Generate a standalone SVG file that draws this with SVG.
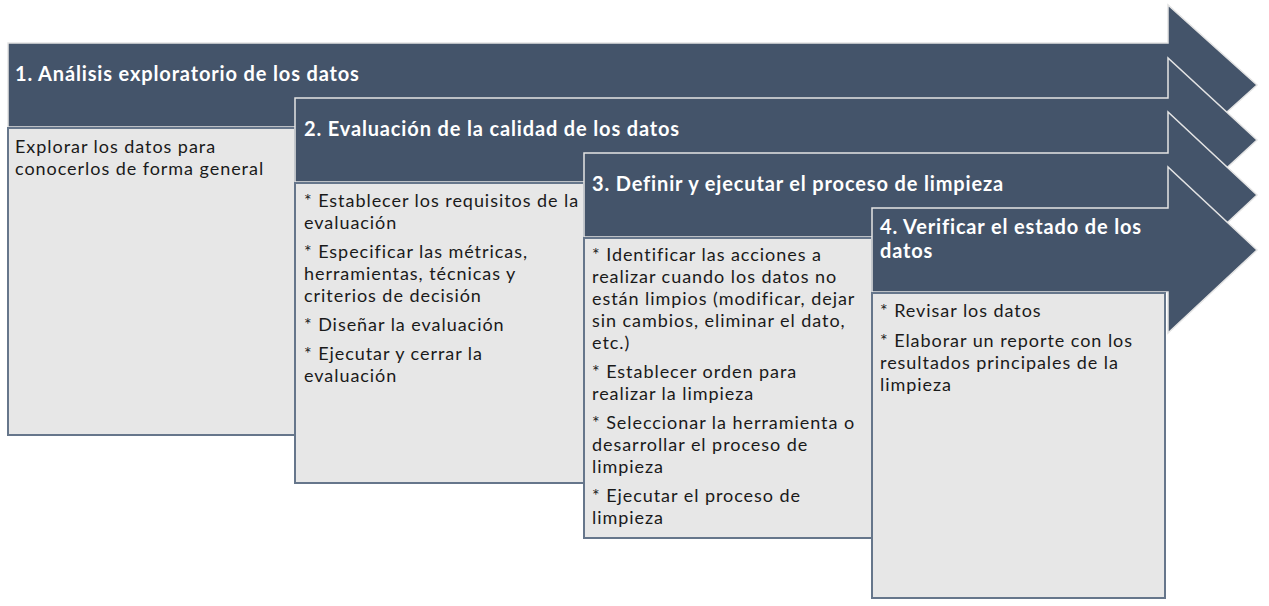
<svg xmlns="http://www.w3.org/2000/svg" width="1269" height="606" viewBox="0 0 1269 606">
  <style>
    .arrow { fill: #44546a; stroke: #e4e4e4; stroke-width: 1.5; stroke-linejoin: miter; }
    .box { fill: #e7e7e7; stroke: #66768b; stroke-width: 2; }
    .title { font-family: Lato, "Liberation Sans", sans-serif; font-weight: bold; font-size: 20px; letter-spacing: 0.85px; fill: #ffffff; }
    .body { font-family: Lato, "Liberation Sans", sans-serif; font-size: 18px; letter-spacing: 0.95px; fill: #1a1a1a; }
  </style>
  <rect x="0" y="0" width="1269" height="606" fill="#ffffff"/>

  <g id="step1">
    <path class="arrow" d="M8,43 H1168 V5 L1257,85 L1168,165 V127 H8 Z"/>
    <rect class="box" x="8" y="128" width="287" height="307"/>
    <text class="title" x="15" y="81">1. Análisis exploratorio de los datos</text>
    <text class="body" x="15" y="153">Explorar los datos para</text>
    <text class="body" x="15" y="175">conocerlos de forma general</text>
  </g>

  <g id="step2">
    <path class="arrow" d="M295,98 H1168 V58 L1257,140 L1168,222 V182 H295 Z"/>
    <rect class="box" x="295" y="183" width="289" height="300"/>
    <text class="title" x="304" y="136">2. Evaluación de la calidad de los datos</text>
    <text class="body" x="304" y="207">* Establecer los requisitos de la</text>
    <text class="body" x="304" y="229">evaluación</text>
    <text class="body" x="304" y="258">* Especificar las métricas,</text>
    <text class="body" x="304" y="280">herramientas, técnicas y</text>
    <text class="body" x="304" y="302">criterios de decisión</text>
    <text class="body" x="304" y="331">* Diseñar la evaluación</text>
    <text class="body" x="304" y="360">* Ejecutar y cerrar la</text>
    <text class="body" x="304" y="382">evaluación</text>
  </g>

  <g id="step3">
    <path class="arrow" d="M584,153 H1168 V112 L1257,195 L1168,278 V237 H584 Z"/>
    <rect class="box" x="584" y="238" width="288" height="300"/>
    <text class="title" x="592" y="191">3. Definir y ejecutar el proceso de limpieza</text>
    <text class="body" x="592" y="261">* Identificar las acciones a</text>
    <text class="body" x="592" y="283">realizar cuando los datos no</text>
    <text class="body" x="592" y="305">están limpios (modificar, dejar</text>
    <text class="body" x="592" y="327">sin cambios, eliminar el dato,</text>
    <text class="body" x="592" y="349">etc.)</text>
    <text class="body" x="592" y="378">* Establecer orden para</text>
    <text class="body" x="592" y="400">realizar la limpieza</text>
    <text class="body" x="592" y="429">* Seleccionar la herramienta o</text>
    <text class="body" x="592" y="451">desarrollar el proceso de</text>
    <text class="body" x="592" y="473">limpieza</text>
    <text class="body" x="592" y="502">* Ejecutar el proceso de</text>
    <text class="body" x="592" y="524">limpieza</text>
  </g>

  <g id="step4">
    <path class="arrow" d="M872,208 H1168 V167 L1257,250 L1168,333 V292 H872 Z"/>
    <rect class="box" x="872" y="293" width="293" height="305"/>
    <text class="title" x="880" y="234">4. Verificar el estado de los</text>
    <text class="title" x="880" y="258">datos</text>
    <text class="body" x="880" y="317">* Revisar los datos</text>
    <text class="body" x="880" y="347">* Elaborar un reporte con los</text>
    <text class="body" x="880" y="369">resultados principales de la</text>
    <text class="body" x="880" y="391">limpieza</text>
  </g>

  <g id="connectors"></g>
</svg>
